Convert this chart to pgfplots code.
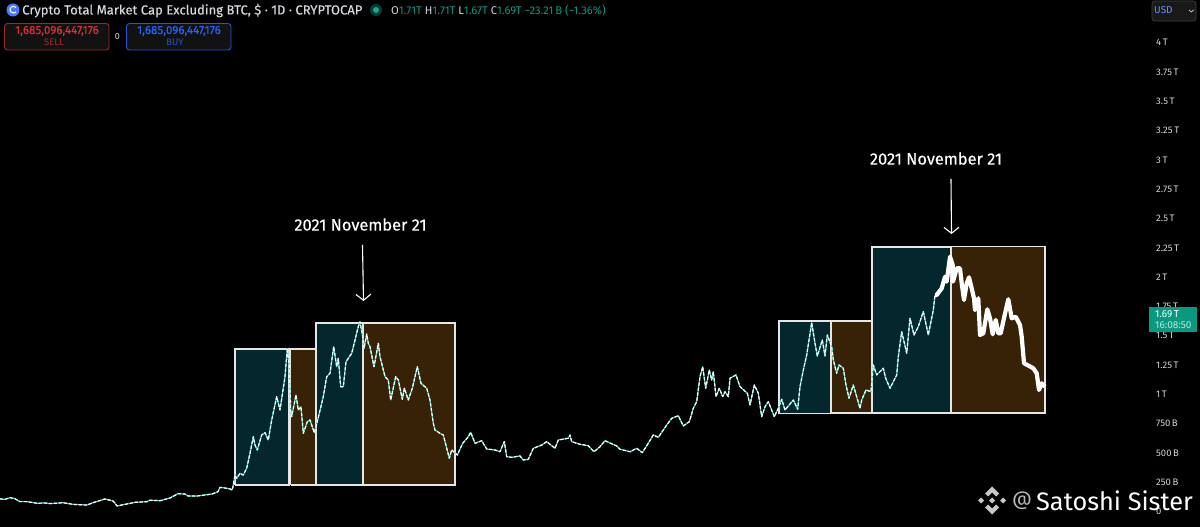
\documentclass[border=0pt]{standalone}
\usepackage{fontspec}
\setmainfont{Fira Sans}
\newfontfamily\heavier[FakeBold=0.3]{Fira Sans}
\usepackage{pgfplots}
\usepackage{pgfplotstable}
\pgfplotsset{compat=1.18}
\usetikzlibrary{arrows.meta}
\definecolor{tealbox}{HTML}{04272D}
\definecolor{brownbox}{HTML}{382207}
\definecolor{boxline}{HTML}{E6E6E6}
\definecolor{candle}{HTML}{26C6B0}
\definecolor{axistext}{HTML}{D1D4DC}
\definecolor{tag}{HTML}{089981}
\definecolor{sellred}{HTML}{D9303A}
\definecolor{buyblue}{HTML}{2962FF}
\pgfplotstableread{
x y
0 0.107
5 0.104
10 0.118
15 0.109
20 0.084
27 0.084
37 0.070
45 0.073
50 0.067
63 0.075
73 0.061
87 0.055
93 0.075
105 0.107
113 0.090
115 0.070
117 0.047
125 0.061
135 0.078
147 0.084
150 0.096
160 0.092
170 0.115
178 0.152
185 0.149
188 0.132
197 0.132
212 0.149
218 0.169
220 0.206
227 0.198
230 0.192
232 0.183
233 0.212
235 0.311
236.7 0.283
240 0.326
243.3 0.311
246.7 0.369
250 0.497
253.3 0.638
255 0.567
257.3 0.525
261.7 0.653
265 0.672
268.3 0.610
271.7 0.781
276.7 0.980
280 0.866
285 1.150
287.3 1.392
289.3 1.235
290.7 0.866
291.7 0.809
296 0.994
298.3 0.866
301 0.894
303.3 0.667
307.3 0.766
310 0.781
314.3 0.672
317.7 0.781
323.3 0.980
326.7 1.150
330 1.179
333.7 1.406
336.7 1.235
338.3 1.307
340.7 1.065
343.3 1.065
346 1.278
351.7 1.350
355 1.463
358.3 1.577
360 1.619
362.7 1.491
364 1.392
366.7 1.514
368.3 1.435
370 1.406
374 1.235
378.3 1.435
380 1.321
385 1.150
388.3 1.122
390.7 0.951
395.7 1.150
398.3 1.122
402.3 0.957
404.3 1.051
408.3 0.951
412.3 1.051
417.3 1.235
421 1.094
426.7 1.051
430 0.951
433.3 0.753
435 0.695
440 0.667
443.3 0.653
449.3 0.454
451.7 0.525
457.3 0.482
462.7 0.582
468.3 0.638
470.7 0.676
475 0.582
481.7 0.604
486.7 0.533
495 0.525
500 0.510
504.3 0.596
506.7 0.468
511.7 0.462
520 0.474
523.3 0.439
528.3 0.445
533.3 0.539
541.7 0.567
546.7 0.596
555 0.539
558.3 0.610
568.3 0.625
570 0.653
571.7 0.596
580 0.573
588.3 0.561
594 0.510
600 0.553
605 0.604
616.7 0.559
620 0.531
630 0.510
636.7 0.539
642.3 0.502
646.7 0.561
653.3 0.653
658.3 0.633
663.3 0.695
666.7 0.738
671.7 0.795
678.3 0.817
683.3 0.730
689.3 0.766
693.3 0.881
696.7 0.937
700 1.150
702.7 1.235
705.7 1.051
709.3 1.207
711.7 1.122
713.3 1.193
716 0.980
719.3 1.051
722.7 0.980
725 1.022
728.3 0.980
730 1.137
736 1.165
740 1.065
747.3 1.009
750 0.909
754.3 1.079
758.3 1.009
761.7 0.809
765 0.894
768.3 0.937
774.3 0.809
778.3 0.881
781.7 0.957
785 0.866
793.3 0.951
797.7 0.872
800 1.065
803.3 1.207
806.7 1.335
811.7 1.611
815 1.435
817.3 1.327
822.3 1.463
825 1.327
827.3 1.506
831.7 1.406
833.3 1.293
836.7 1.179
839 1.250
843.3 1.222
846 1.079
849 0.966
853.3 1.079
860 0.881
861.7 0.951
866 1.037
871 1.022
873.3 1.250
876.7 1.165
883.3 1.222
885.7 1.137
890 1.051
896.7 1.165
898.3 1.321
901.7 1.534
906.7 1.350
910 1.648
914 1.506
918.3 1.577
923.3 1.705
928.3 1.506
933.3 1.719
935 1.847
}\thinline
\pgfplotstableread{
x y
935 1.847
936.7 1.847
941.7 1.904
945 2.003
946.7 1.961
950 2.174
952.7 2.103
953 1.961
956.7 2.075
960 2.075
961.7 1.947
964 1.805
966.7 1.947
969 1.998
971.7 1.904
974 1.819
975 1.719
978.3 1.819
980 1.506
983.3 1.520
987.3 1.725
990 1.648
992.7 1.512
995.7 1.634
998.3 1.520
1000.7 1.520
1004.3 1.662
1008.3 1.811
1011.7 1.648
1015.7 1.662
1020 1.591
1021.7 1.492
1024 1.265
1033.3 1.222
1036.7 1.179
1039 1.037
1041.7 1.094
1045 1.065
}\thickline
\begin{document}
\begin{tikzpicture}[x=1pt,y=1pt]
\fill[black,use as bounding box] (0,0) rectangle (1200,527);
\begin{axis}[
  at={(0,0)},anchor=south west,
  width=1147pt,height=527pt,scale only axis,
  xmin=0,xmax=1147,ymin=-0.1323,ymax=4.3643,
  hide x axis,
  axis y line*=right,
  y axis line style={draw=none},
  major tick length=0pt,
  ytick={0,0.25,0.5,0.75,1,1.25,1.5,1.75,2,2.25,2.5,2.75,3,3.25,3.5,3.75,4},
  yticklabels={0,250\,B,500\,B,750\,B,1\,T,1.25\,T,1.5\,T,1.75\,T,2\,T,2.25\,T,2.5\,T,2.75\,T,3\,T,3.25\,T,3.5\,T,3.75\,T,4\,T},
  yticklabel style={anchor=west,xshift=9pt,inner sep=0pt,font=\fontsize{9.5}{10}\selectfont,text=axistext},
  no marks,
]
\addplot[fill=tealbox,draw=boxline,line width=1.8pt] coordinates {(235,0.226)(289,0.226)(289,1.389)(235,1.389)(235,0.226)};
\addplot[fill=brownbox,draw=boxline,line width=1.8pt] coordinates {(290.5,0.226)(315.7,0.226)(315.7,1.389)(290.5,1.389)(290.5,0.226)};
\addplot[fill=tealbox,draw=boxline,line width=1.8pt] coordinates {(315.7,0.226)(363.3,0.226)(363.3,1.606)(315.7,1.606)(315.7,0.226)};
\addplot[fill=brownbox,draw=boxline,line width=1.8pt] coordinates {(363.3,0.226)(455,0.226)(455,1.606)(363.3,1.606)(363.3,0.226)};
\addplot[fill=tealbox,draw=boxline,line width=1.8pt] coordinates {(779,0.836)(831,0.836)(831,1.628)(779,1.628)(779,0.836)};
\addplot[fill=brownbox,draw=boxline,line width=1.8pt] coordinates {(831,0.843)(871.7,0.843)(871.7,1.628)(831,1.628)(831,0.843)};
\addplot[fill=tealbox,draw=boxline,line width=1.8pt] coordinates {(871.7,0.843)(951,0.843)(951,2.255)(871.7,2.255)(871.7,0.843)};
\addplot[fill=brownbox,draw=boxline,line width=1.8pt] coordinates {(951.5,0.843)(1045,0.843)(1045,2.261)(951.5,2.261)(951.5,0.843)};
\addplot[candle,line width=1.2pt,line join=round] table {\thinline};
\addplot[white,line width=1.2pt,line join=round,dash pattern=on 3.5pt off 1.5pt] table {\thinline};
\addplot[white,line width=4.2pt,line join=round] table {\thickline};
\end{axis}
\begin{scope}[shift={(0,527)},y=-1pt]
% header
\fill[buyblue!85!white] (13,10) circle (6.5);
\draw[white,line width=1pt] (16,7.5) arc (-40:-320:3.4);
\node[anchor=west,inner sep=0,text=axistext!90!white,font=\heavier\fontsize{13.05}{14}\selectfont] at (22,10.5) {Crypto Total Market Cap Excluding BTC, \$ · 1D · CRYPTOCAP};
\fill[tag!40!black] (376,10) circle (6);
\fill[tag!90!white] (376,10) circle (3);
\node[anchor=west,inner sep=0,font=\fontsize{11.2}{12}\selectfont,text=axistext] at (391,10.5) {O\textcolor{tag}{1.71T} H\textcolor{tag}{1.71T} L\textcolor{tag}{1.67T} C\textcolor{tag}{1.69T} \textcolor{tag}{−23.21\,B (−1.36\%)}};
\filldraw[fill=black!93!white,draw=sellred!75!black,line width=0.9pt,rounded corners=3pt] (4.5,23.5) rectangle (109,50);
\node[inner sep=0,font=\heavier\fontsize{11.6}{12}\selectfont,text=sellred] at (57,31) {1,685,096,447,176};
\node[inner sep=0,font=\fontsize{9.5}{10}\selectfont,text=sellred!80!black] at (54,42.5) {SELL};
\node[inner sep=0,font=\fontsize{9}{10}\selectfont,text=axistext] at (117.5,36.5) {0};
\filldraw[fill=black!93!white,draw=buyblue!85!black,line width=0.9pt,rounded corners=3pt] (126.5,23.5) rectangle (231,50);
\node[inner sep=0,font=\heavier\fontsize{11.6}{12}\selectfont,text=buyblue] at (179,31) {1,685,096,447,176};
\node[inner sep=0,font=\fontsize{9.5}{10}\selectfont,text=buyblue!85!black] at (175,42.5) {BUY};
% annotations
\node[text=white,inner sep=0,font=\heavier\fontsize{16.4}{18}\selectfont] at (360.5,224.5) {2021 November 21};
\draw[white,line width=1.1pt,-{Straight Barb[length=6pt,width=15pt]}] (362.5,245) -- (363.5,301);
\node[text=white,inner sep=0,font=\heavier\fontsize{16.4}{18}\selectfont] at (936,158.5) {2021 November 21};
\draw[white,line width=1.1pt,-{Straight Barb[length=6pt,width=15pt]}] (951,179) -- (951.5,234);
% price tag
\fill[tag] (1149,307.5) rectangle (1197,331.7);
\node[anchor=west,inner sep=0,font=\fontsize{10}{11}\selectfont,text=white] at (1155,314) {1.69\,T};
\node[anchor=west,inner sep=0,font=\fontsize{10}{11}\selectfont,text=white!75!tag] at (1155,325.5) {16:08:50};
% currency
\filldraw[fill=black!90!white,draw=black!75!white,line width=0.7pt,rounded corners=3pt] (1152,1) rectangle (1196,21);
\node[anchor=west,inner sep=0,font=\fontsize{10}{11}\selectfont,text=buyblue!70!white] at (1154,10.5) {USD};
\draw[axistext,line width=0.7pt] (1189,10) -- (1191.3,12) -- (1193.6,10);
% watermark
\begin{scope}[shift={(992,500.5)}]
\fill[black!22!white] (0,-14) -- (7,-7) -- (4,-4) -- (0,-8) -- (-4,-4) -- (-7,-7) -- cycle;
\fill[black!22!white] (0,14) -- (7,7) -- (4,4) -- (0,8) -- (-4,4) -- (-7,7) -- cycle;
\fill[black!22!white] (-14,0) -- (-11,-3) -- (-8,0) -- (-11,3) -- cycle;
\fill[black!22!white] (14,0) -- (11,-3) -- (8,0) -- (11,3) -- cycle;
\fill[black!22!white] (0,-3) -- (3,0) -- (0,3) -- (-3,0) -- cycle;
\end{scope}
\node[anchor=west,inner sep=0,font=\fontsize{19.5}{22}\selectfont,text=black!28!white] at (1012,500.5) {@};
\node[anchor=west,inner sep=0,font=\fontsize{25.3}{27}\selectfont,text=white] at (1036,500.5) {Satoshi Sister};
\end{scope}
\end{tikzpicture}
\end{document}
